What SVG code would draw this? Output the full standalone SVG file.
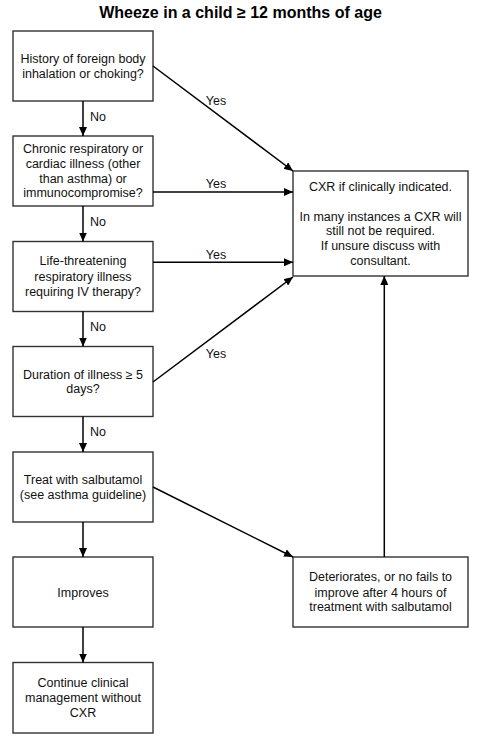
<svg xmlns="http://www.w3.org/2000/svg" width="499" height="740" viewBox="0 0 499 740">
<style>
.box{fill:#fff;stroke:#333;stroke-width:1.4}
.t{font-family:"Liberation Sans",Arial,sans-serif;font-size:12.5px;fill:#111;text-anchor:middle}
.l{font-family:"Liberation Sans",Arial,sans-serif;font-size:12.5px;fill:#111}
.title{font-family:"Liberation Sans",Arial,sans-serif;font-size:16px;font-weight:bold;fill:#000;text-anchor:middle}
.c{stroke:#000;stroke-width:1.5;fill:none;marker-end:url(#ah)}
</style>
<defs>
<marker id="ah" markerUnits="userSpaceOnUse" markerWidth="9" markerHeight="8" refX="9" refY="4" orient="auto">
<path d="M0,0 L9,4 L0,8 z" fill="#000"/>
</marker>
</defs>
<rect width="499" height="740" fill="#fff"/>
<text class="title" x="240.5" y="18">Wheeze in a child ≥ 12 months of age</text>

<g id="n1"><rect class="box" x="13" y="31" width="140" height="70"/>
<text class="t" x="83" y="62.5">History of foreign body</text>
<text class="t" x="83" y="77.5">inhalation or choking?</text></g>

<g id="n2"><rect class="box" x="13" y="136" width="140" height="70"/>
<text class="t" x="83" y="152.8">Chronic respiratory or</text>
<text class="t" x="83" y="167.8">cardiac illness (other</text>
<text class="t" x="83" y="182.8">than asthma) or</text>
<text class="t" x="83" y="197">immunocompromise?</text></g>

<g id="n3"><rect class="box" x="13" y="241.5" width="140" height="70"/>
<text class="t" x="83" y="265">Life-threatening</text>
<text class="t" x="83" y="280.5">respiratory illness</text>
<text class="t" x="83" y="296">requiring IV therapy?</text></g>

<g id="n4"><rect class="box" x="13" y="346.5" width="140" height="70"/>
<text class="t" x="83" y="378.5">Duration of illness ≥ 5</text>
<text class="t" x="83" y="393">days?</text></g>

<g id="n5"><rect class="box" x="13" y="452" width="140" height="70"/>
<text class="t" x="83" y="483.8">Treat with salbutamol</text>
<text class="t" x="83" y="498.5">(see asthma guideline)</text></g>

<g id="n6"><rect class="box" x="13" y="557" width="140" height="70"/>
<text class="t" x="83" y="597">Improves</text></g>

<g id="n7"><rect class="box" x="13" y="662.5" width="140" height="70.5"/>
<text class="t" x="83" y="687">Continue clinical</text>
<text class="t" x="83" y="702">management without</text>
<text class="t" x="83" y="717">CXR</text></g>

<g id="cxr"><rect class="box" x="293" y="171" width="175" height="105"/>
<text class="t" x="380.5" y="190.5">CXR if clinically indicated.</text>
<text class="t" x="380.5" y="220.5">In many instances a CXR will</text>
<text class="t" x="380.5" y="234.5">still not be required.</text>
<text class="t" x="380.5" y="250">If unsure discuss with</text>
<text class="t" x="380.5" y="264.5">consultant.</text></g>

<g id="det"><rect class="box" x="293" y="557" width="175" height="70"/>
<text class="t" x="380.5" y="581">Deteriorates, or no fails to</text>
<text class="t" x="380.5" y="596.5">improve after 4 hours of</text>
<text class="t" x="380.5" y="611">treatment with salbutamol</text></g>

<g id="connectors">
<line class="c" x1="83" y1="101" x2="83" y2="136"/>
<line class="c" x1="83" y1="206" x2="83" y2="241.5"/>
<line class="c" x1="83" y1="311.5" x2="83" y2="346.5"/>
<line class="c" x1="83" y1="416.5" x2="83" y2="452"/>
<line class="c" x1="83" y1="522" x2="83" y2="557"/>
<line class="c" x1="83" y1="627" x2="83" y2="662.5"/>
<line class="c" x1="153" y1="66" x2="293" y2="171"/>
<line class="c" x1="153" y1="192" x2="293" y2="192"/>
<line class="c" x1="153" y1="262.3" x2="293" y2="262.3"/>
<line class="c" x1="153" y1="382" x2="293" y2="277"/>
<line class="c" x1="153" y1="487" x2="293" y2="557"/>
<line class="c" x1="384.3" y1="557" x2="384.3" y2="276"/>
<text class="l" x="90" y="120.5">No</text>
<text class="l" x="90" y="225.5">No</text>
<text class="l" x="90" y="331">No</text>
<text class="l" x="90" y="436">No</text>
<text class="t" x="216" y="104.5">Yes</text>
<text class="t" x="216" y="187.5">Yes</text>
<text class="t" x="216" y="258.5">Yes</text>
<text class="t" x="216" y="358">Yes</text>
</g>
</svg>
